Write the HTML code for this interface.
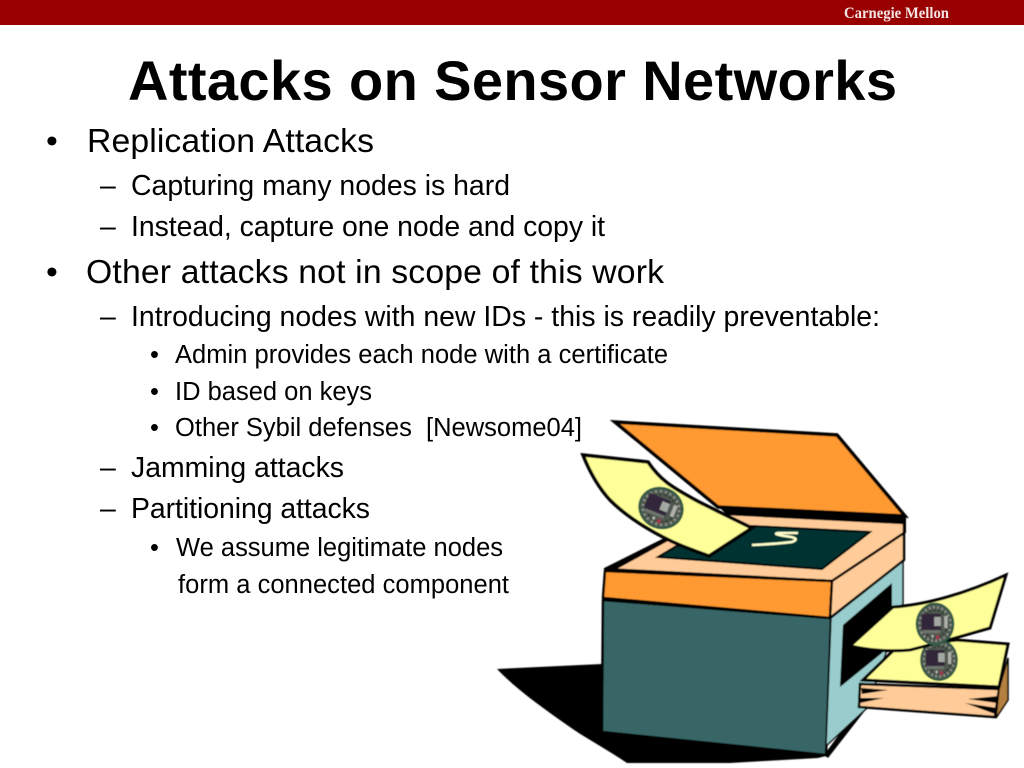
<!DOCTYPE html>
<html>
<head>
<meta charset="utf-8">
<style>
html,body{margin:0;padding:0;background:#fff;width:1024px;height:768px;overflow:hidden}
svg{display:block}
text{font-family:"Liberation Sans",Arial,sans-serif;fill:#000}
.l1{font-size:33.75px}.l2{font-size:28.4px}.l3{font-size:25.5px}
</style>
</head>
<body>
<svg width="1024" height="768" viewBox="0 0 1024 768" xmlns="http://www.w3.org/2000/svg">
<defs>
<g id="chip">
<ellipse cx="0" cy="0" rx="23" ry="21" fill="#2c5a44"/>
<ellipse cx="0" cy="0" rx="21" ry="19" fill="#4f5850"/>
<ellipse cx="0" cy="0" rx="18.5" ry="16.5" fill="none" stroke="#8f958d" stroke-width="2.5" stroke-dasharray="2 3"/>
<ellipse cx="0" cy="0" rx="15" ry="13.5" fill="none" stroke="#343f38" stroke-width="2" stroke-dasharray="3 2"/>
<rect x="-16" y="-10" width="23" height="16" fill="#33253a"/>
<rect x="-14" y="6" width="20" height="3" fill="#6f756e"/>
<rect x="-1" y="-7" width="8" height="9" fill="#a3a8a2"/>
<rect x="11" y="-8" width="4" height="12" fill="#aeb1a9"/>
<circle cx="3" cy="13" r="2.2" fill="#a03c50"/>
<circle cx="-3" cy="12" r="1.5" fill="#b4b8b0"/>
</g>
<filter id="soft" x="-2%" y="-2%" width="104%" height="104%"><feGaussianBlur stdDeviation="0.45"/></filter>
</defs>

<rect x="0" y="0" width="1024" height="25" fill="#990000"/>
<text x="844" y="18" style="font-family:'Liberation Serif',serif;font-weight:bold;font-size:16px;fill:#f2e4e4" textLength="105" lengthAdjust="spacingAndGlyphs">Carnegie Mellon</text>

<text x="128" y="100" style="font-size:56px;font-weight:bold" textLength="769">Attacks on Sensor Networks</text>

<text class="l1" x="46" y="152">•</text>
<text class="l1" x="87" y="152" textLength="287">Replication Attacks</text>
<text class="l2" x="100" y="195">–</text>
<text class="l2" x="131" y="195" textLength="379">Capturing many nodes is hard</text>
<text class="l2" x="100" y="236">–</text>
<text class="l2" x="131" y="236" textLength="474">Instead, capture one node and copy it</text>
<text class="l1" x="46" y="283">•</text>
<text class="l1" x="86" y="283" textLength="578">Other attacks not in scope of this work</text>
<text class="l2" x="100" y="326">–</text>
<text class="l2" x="131" y="326" textLength="749">Introducing nodes with new IDs - this is readily preventable:</text>
<text class="l3" x="150" y="363">•</text>
<text class="l3" x="175" y="363" textLength="493">Admin provides each node with a certificate</text>
<text class="l3" x="150" y="400">•</text>
<text class="l3" x="175" y="400" textLength="197">ID based on keys</text>
<text class="l3" x="150" y="436">•</text>
<text class="l3" x="175" y="436" xml:space="preserve" textLength="407">Other Sybil defenses  [Newsome04]</text>
<text class="l2" x="100" y="477">–</text>
<text class="l2" x="131" y="477" textLength="213">Jamming attacks</text>
<text class="l2" x="100" y="518">–</text>
<text class="l2" x="131" y="518" textLength="239">Partitioning attacks</text>
<text class="l3" x="150" y="556">•</text>
<text class="l3" x="176" y="556" textLength="327">We assume legitimate nodes</text>
<text class="l3" x="178" y="593" textLength="331">form a connected component</text>

<g filter="url(#soft)">
<!-- shadow -->
<path d="M497 669L602 664L604 732L826 756L818 758L730 763L627 763C605 748 585 738 567 725C540 706 515 688 497 669Z" fill="#000"/>
<path d="M824 755L828 758L867 708L860 706Z" fill="#000"/>

<!-- box sides -->
<path d="M603 600L831 618L826 755L602 732Z" fill="#396666" stroke="#000" stroke-width="2.5" stroke-linejoin="round"/>
<path d="M831 618L903 561L903 603L867 708L826 746Z" fill="#99cccc" stroke="#000" stroke-width="1.5"/>
<path d="M843 625L892 583L892 640L882 653L840 687Z" fill="#000"/>

<!-- lid hinge + lid -->
<path d="M718 506L906 516L906 533L897 533L727 515Z" fill="#000"/>
<path d="M615 422L837 435L905 516L718 507Z" fill="#ff9933" stroke="#000" stroke-width="3.5" stroke-linejoin="miter"/>

<!-- top -->
<path d="M605 569L665 539L727 514L904 523L904 533L832 581Z" fill="#ffcc99" stroke="#000" stroke-width="2.5" stroke-linejoin="round"/>
<path d="M605 569L665 538L668 541L617 569Z" fill="#000"/>
<path d="M658 557L700 532L752 526L870 532L822 569Z" fill="#003333" stroke="#000" stroke-width="2"/>
<path d="M752 545Q775 544 792 542Q802 538 785 536Q772 534 778 533L798 533" fill="none" stroke="#ffffcc" stroke-width="2.5"/>

<!-- orange front -->
<path d="M605 571L832 581L830 618L603 598Z" fill="#ff9933" stroke="#000" stroke-width="2.5" stroke-linejoin="round"/>
<path d="M832 581L904 533L904 560L830 618Z" fill="#ffcc99" stroke="#000" stroke-width="2.5" stroke-linejoin="round"/>

<!-- feed paper -->
<path d="M583 455L648 462C660 480 672 487 690 497C700 503 710 507 717 511L752 528L709 556C690 549 678 545 663 537C640 525 622 512 610 500C598 487 589 470 583 455Z" fill="#ffff99" stroke="#000" stroke-width="3.5" stroke-linejoin="miter"/>
<use href="#chip" transform="translate(661 508) rotate(22)"/>

<!-- output stack -->
<path d="M860 684L999 689L995 717L859 707Z" fill="#ffcc99" stroke="#000" stroke-width="2.5"/>
<path d="M861 688L888 690L862 694ZM860 698L884 698L860 703ZM999 696L968 699L997 703ZM997 708L965 703L995 714Z" fill="#000"/>
<path d="M1008 658L999 689L996 718L1008 700Z" fill="#b38040" stroke="#000" stroke-width="1.5"/>
<path d="M863 680L897 647L957 640L1008 644L999 687Z" fill="#ffff99" stroke="#000" stroke-width="3"/>
<use href="#chip" transform="translate(939 660) scale(.82 1)"/>

<!-- output paper -->
<path d="M850 646L893 607C925 605 965 594 1006 575L990 628C962 636 942 642 910 650C888 652 868 650 850 646Z" fill="#ffff99" stroke="#000" stroke-width="3" stroke-linejoin="miter"/>
<use href="#chip" transform="translate(935 624) scale(.84 1.02)"/>
</g>
</svg>
</body>
</html>
